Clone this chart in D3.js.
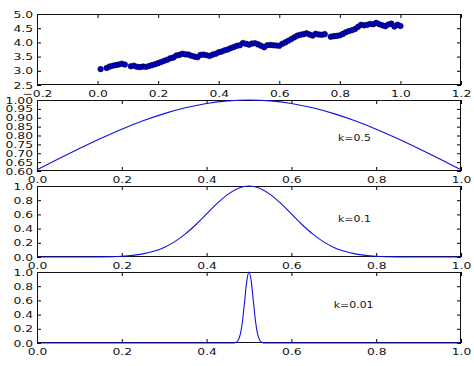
<!DOCTYPE html>
<html><head><meta charset="utf-8">
<script src="https://cdn.jsdelivr.net/npm/d3@7/dist/d3.min.js"></script>
<style>body{margin:0;background:#fff}</style></head>
<body>
<svg id="c" width="474" height="366"></svg>
<script>
// ---- data ----
const scatterX = [0.01,0.03,0.04,0.05,0.06,0.07,0.08,0.09,0.11,0.12,0.13,0.14,0.15,0.16,0.17,0.18,0.19,0.20,
  0.21,0.22,0.23,0.24,0.25,0.26,0.27,0.28,0.29,0.30,0.31,0.32,0.33,0.34,0.35,0.36,0.37,0.38,0.39,0.40,
  0.41,0.42,0.43,0.44,0.45,0.46,0.47,0.48,0.49,0.50,0.51,0.52,0.53,0.54,0.55,0.56,0.57,0.58,0.59,0.60,
  0.61,0.62,0.63,0.64,0.65,0.66,0.67,0.68,0.69,0.70,0.71,0.72,0.73,0.74,0.75,0.77,0.78,0.79,0.80,
  0.81,0.82,0.83,0.84,0.85,0.86,0.87,0.88,0.89,0.90,0.91,0.92,0.93,0.94,0.95,0.96,0.97,0.98,0.99,1.00];
const scatterY = [3.06,3.10,3.15,3.18,3.20,3.22,3.25,3.22,3.16,3.18,3.14,3.13,3.15,3.14,3.17,3.20,3.23,3.27,
  3.31,3.35,3.39,3.44,3.47,3.54,3.56,3.60,3.58,3.57,3.53,3.50,3.48,3.56,3.57,3.55,3.52,3.57,3.60,3.65,
  3.68,3.72,3.75,3.80,3.84,3.88,3.90,3.98,3.95,3.92,3.96,3.97,3.93,3.88,3.83,3.90,3.91,3.90,3.89,3.88,
  3.95,4.00,4.06,4.12,4.18,4.24,4.27,4.29,4.32,4.28,4.24,4.30,4.28,4.27,4.29,4.20,4.22,4.23,4.25,
  4.30,4.36,4.40,4.43,4.47,4.55,4.62,4.60,4.62,4.65,4.64,4.69,4.64,4.60,4.57,4.63,4.66,4.56,4.62,4.58];

const k05X = [0,0.05,0.1,0.15,0.2,0.25,0.3,0.35,0.4,0.45,0.5,0.55,0.6,0.65,0.7,0.75,0.8,0.85,0.9,0.95,1.0];
const k05Y = [0.6065,0.6670,0.7261,0.7827,0.8353,0.8825,0.9231,0.9560,0.9802,0.9950,1.0000,
  0.9950,0.9802,0.9560,0.9231,0.8825,0.8353,0.7827,0.7261,0.6670,0.6065];

const k01X = [0,0.1,0.15,0.2,0.225,0.25,0.275,0.3,0.325,0.35,0.375,0.4,0.425,0.45,0.475,0.5,
  0.525,0.55,0.575,0.6,0.625,0.65,0.675,0.7,0.725,0.75,0.775,0.8,0.85,0.9,1.0];
const k01Y = [0,0.0003,0.0022,0.0111,0.0228,0.0439,0.0796,0.1353,0.2163,0.3247,0.4578,0.6065,0.7548,0.8825,0.9692,1.0,
  0.9692,0.8825,0.7548,0.6065,0.4578,0.3247,0.2163,0.1353,0.0796,0.0439,0.0228,0.0111,0.0022,0.0003,0];

const k001X = [0,0.46,0.465,0.47,0.475,0.48,0.485,0.49,0.495,0.5,0.505,0.51,0.515,0.52,0.525,0.53,0.535,0.54,1.0];
const k001Y = [0,0.0003,0.0022,0.0111,0.0439,0.1353,0.3247,0.6065,0.8825,1.0,0.8825,0.6065,0.3247,0.1353,0.0439,0.0111,0.0022,0.0003,0];

const xTicksTop = [-0.2,0.0,0.2,0.4,0.6,0.8,1.0,1.2];
const yTicksTop = [2.5,3.0,3.5,4.0,4.5,5.0];
const xTicksUnit = [0.0,0.2,0.4,0.6,0.8,1.0];
const yTicksK05 = [0.60,0.65,0.70,0.75,0.80,0.85,0.90,0.95,1.00];
const yTicksUnit = [0.0,0.2,0.4,0.6,0.8,1.0];
const labels = ["k=0.5","k=0.1","k=0.01"];

// ---- layout ----
const svg = d3.select("#c");
const L = 37, R = 461, H = 71;
const tops = [14, 100, 186, 272];
const FS = 9.5, SX = 1.3;
const fmt1 = d => d3.format(".1f")(d).replace("-", "\u2212");
const fmt2 = d3.format(".2f");

function panel(top, xDom, xT, xF, yDom, yT, yF) {
  const x = d3.scaleLinear().domain(xDom).range([L, R]);
  const y = d3.scaleLinear().domain(yDom).range([top + H, top]);
  const g = svg.append("g");
  const gb = g.append("g").attr("transform", `translate(0,${top + H})`)
    .call(d3.axisBottom(x).tickValues(xT).tickFormat(xF).tickSizeInner(-4).tickSizeOuter(0).tickPadding(5.2));
  const gt = g.append("g").attr("transform", `translate(0,${top})`)
    .call(d3.axisTop(x).tickValues(xT).tickFormat("").tickSizeInner(-4).tickSizeOuter(0));
  const gl = g.append("g").attr("transform", `translate(${L},0)`)
    .call(d3.axisLeft(y).tickValues(yT).tickFormat(yF).tickSizeInner(-4).tickSizeOuter(0).tickPadding(4));
  const gr = g.append("g").attr("transform", `translate(${R},0)`)
    .call(d3.axisRight(y).tickValues(yT).tickFormat("").tickSizeInner(-4).tickSizeOuter(0));
  [gb, gt, gl, gr].forEach(a => {
    a.select(".domain").remove();
    a.attr("font-family", "DejaVu Sans").attr("font-size", FS);
    a.selectAll("line").attr("stroke", "#000");
    a.selectAll("text").attr("fill", "#111");
  });
  gb.selectAll("text").attr("transform", `scale(${SX},1)`);
  gl.selectAll("text").attr("x", -4 / SX).attr("transform", `scale(${SX},1)`);
  return {x, y, g};
}

function frame(top) {
  svg.append("rect").attr("x", L + 0.5).attr("y", top + 0.5).attr("width", R - L - 1).attr("height", H - 1)
    .attr("fill", "none").attr("stroke", "#111").attr("stroke-width", 1);
}

// panel 1: scatter
{
  const p = panel(tops[0], [-0.2, 1.2], xTicksTop, fmt1, [2.5, 5.0], yTicksTop, fmt1);
  frame(tops[0]);
  svg.append("g").selectAll("circle").data(scatterX.map((v, i) => [v, scatterY[i]])).join("circle")
    .attr("cx", d => p.x(d[0])).attr("cy", d => p.y(d[1])).attr("r", 2.8)
    .attr("fill", "#0000cc").attr("stroke", "#000022").attr("stroke-width", 0.6);
}

function kernelPanel(top, xs, ys, yDom, yT, yF, label, lx, ly) {
  const p = panel(top, [0, 1], xTicksUnit, fmt1, yDom, yT, yF);
  frame(top);
  const line = d3.line().x(d => p.x(d[0])).y(d => p.y(d[1])).curve(d3.curveMonotoneX);
  svg.append("path").datum(xs.map((v, i) => [v, ys[i]])).attr("d", line)
    .attr("fill", "none").attr("stroke", "#1010e0").attr("stroke-width", 1.1);
  svg.append("text").attr("font-family", "DejaVu Sans").attr("font-size", FS).attr("fill", "#111")
    .attr("transform", `translate(${p.x(lx)},${p.y(ly)}) scale(1.15,1)`).text(label);
}

kernelPanel(tops[1], k05X, k05Y, [0.6, 1.0], yTicksK05, fmt2, labels[0], 0.71, 0.77);
kernelPanel(tops[2], k01X, k01Y, [0, 1], yTicksUnit, fmt1, labels[1], 0.71, 0.5);
kernelPanel(tops[3], k001X, k001Y, [0, 1], yTicksUnit, fmt1, labels[2], 0.70, 0.5);
</script>
</body></html>
